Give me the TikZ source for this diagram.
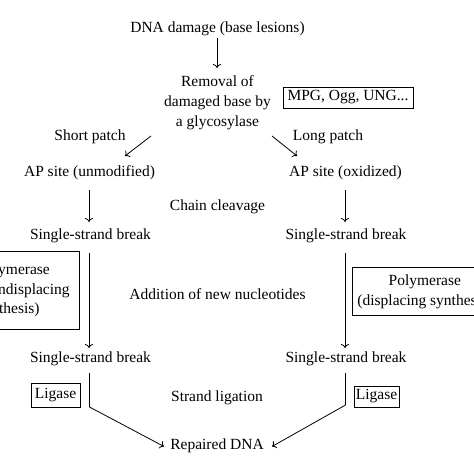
\documentclass[tikz,border=0pt]{standalone}
\usepackage{fontspec}
\setmainfont{Liberation Serif}
\usetikzlibrary{arrows.meta}
\begin{document}
\begin{tikzpicture}[x=1pt,y=-1pt,
  font=\fontsize{15.5}{19.8}\selectfont,
  lbl/.style={inner sep=0pt, anchor=center},
  box/.style={draw, line width=0.9pt, inner sep=0pt},
  arr/.style={line width=0.8pt, -{To[length=4pt,width=8pt]}}]
\useasboundingbox (0,0) rectangle (474,474);
\clip (0,0) rectangle (474,474);
\fill[white] (0,0) rectangle (474,474);

% texts
\node[lbl] (dna) at (217.5,29) {DNA damage (base lesions)};
\node[lbl, align=center] (rem) at (217.5,103) {Removal of\\damaged base by\\a glycosylase};
\node[lbl] (shortp) at (90,137) {Short patch};
\node[lbl] (longp) at (328,137) {Long patch};
\node[lbl] (apL) at (89.5,173) {AP site (unmodified)};
\node[lbl] (apR) at (345.5,173) {AP site (oxidized)};
\node[lbl] (chain) at (217.5,207) {Chain cleavage};
\node[lbl] (ssbL1) at (90.5,236) {Single-strand break};
\node[lbl] (ssbR1) at (346,236) {Single-strand break};
\node[lbl] (add) at (217.5,294) {Addition of new nucleotides};
\node[lbl] (ssbL2) at (90.5,359) {Single-strand break};
\node[lbl] (ssbR2) at (346,359) {Single-strand break};
\node[lbl] (lig) at (217,398) {Strand ligation};
\node[lbl] (rep) at (217,446) {Repaired DNA};

% boxes
\node[box, minimum width=130pt, minimum height=21pt] (mpg) at (348,97.5) {MPG, Ogg, UNG...};
\node[box, minimum width=49pt, minimum height=24pt] (ligL) at (55.5,395) {Ligase};
\node[box, minimum width=45pt, minimum height=21pt] (ligR) at (376.5,396.5) {Ligase};
\node[box, anchor=north east, align=left, text width=98pt, inner xsep=4pt, minimum height=78pt] (polL) at (80,251) {Polymerase\\(nondisplacing\\synthesis)};
\node[box, anchor=north west, align=center, inner xsep=5pt, minimum height=48pt] (polR) at (352,267) {Polymerase\\(displacing synthesis)};

% connector end points
\coordinate (a1s) at (217,38);  \coordinate (a1e) at (217,68);
\coordinate (sps) at (151,136); \coordinate (spe) at (125,156);
\coordinate (lps) at (272,136); \coordinate (lpe) at (297,156);
\coordinate (l1s) at (89,190);  \coordinate (l1e) at (89,222);
\coordinate (r1s) at (345,190); \coordinate (r1e) at (345,222);
\coordinate (l2s) at (89,253);  \coordinate (l2e) at (89,348);
\coordinate (r2s) at (345,253); \coordinate (r2e) at (345,348);
\coordinate (l3s) at (89.5,373);  \coordinate (l3m) at (89.5,407); \coordinate (l3e) at (164,446.5);
\coordinate (r3s) at (345.5,373); \coordinate (r3m) at (345.5,405); \coordinate (r3e) at (272,446.5);

\draw[arr] (a1s) -- (a1e);
\draw[arr] (sps) -- (spe);
\draw[arr] (lps) -- (lpe);
\draw[arr] (l1s) -- (l1e);
\draw[arr] (r1s) -- (r1e);
\draw[arr] (l2s) -- (l2e);
\draw[arr] (r2s) -- (r2e);
\draw[arr] (l3s) -- (l3m) -- (l3e);
\draw[arr] (r3s) -- (r3m) -- (r3e);
\end{tikzpicture}
\end{document}
